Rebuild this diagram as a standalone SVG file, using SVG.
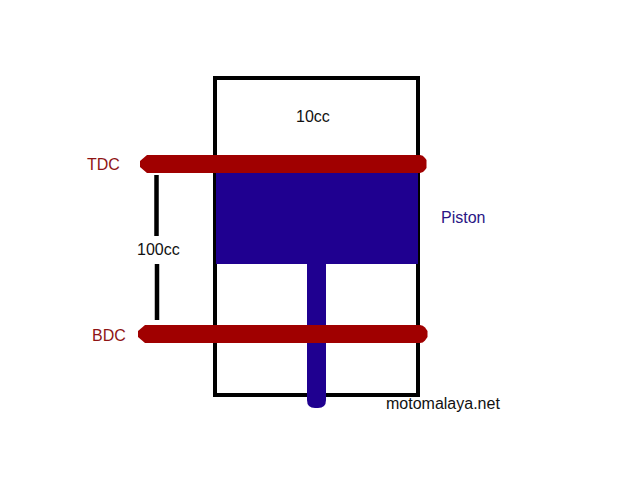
<svg xmlns="http://www.w3.org/2000/svg" width="640" height="480" viewBox="0 0 640 480">
<style>
text{font-family:"Liberation Sans",Arial,sans-serif;font-size:16px}
.red{fill:#8f1414}.blue{fill:#2a1585}.blk{fill:#111}
.bar{fill:#a00000}.pis{fill:#1f0090}
.dim{stroke:#000;stroke-width:4.500;fill:none}
</style>
<rect width="640" height="480" fill="#fff"/>
<g id="cylinder"><rect x="215" y="78" width="203" height="317" fill="#fff" stroke="#000" stroke-width="4"/></g>
<g id="piston">
<rect class="pis" x="216" y="173" width="202" height="91"/>
<path class="pis" d="M307 264H326V400Q326 408 318 408H315Q307 408 307 400Z"/>
<text class="blue" x="441" y="223">Piston</text>
</g>
<g id="tdc">
<path class="bar" d="M147 155H420Q423 155 425 158L426.500 160V168L425 170Q423 173 420 173H147L140 167V161Z"/>
<text class="red" x="87" y="170">TDC</text>
</g>
<g id="bdc">
<path class="bar" d="M145 325H420Q423 325 425 327.500L427.500 331V337L425 340.500Q423 343 420 343H145L138 337V331Z"/>
<text class="red" x="92" y="341">BDC</text>
</g>
<g id="connectors">
<path class="dim" d="M156.500 175V236M157 264V320"/>
</g>
<g id="labels">
<text class="blk" x="296" y="122">10cc</text>
<text class="blk" x="137" y="255">100cc</text>
<text class="blk" x="386" y="409">motomalaya.net</text>
</g>
</svg>
